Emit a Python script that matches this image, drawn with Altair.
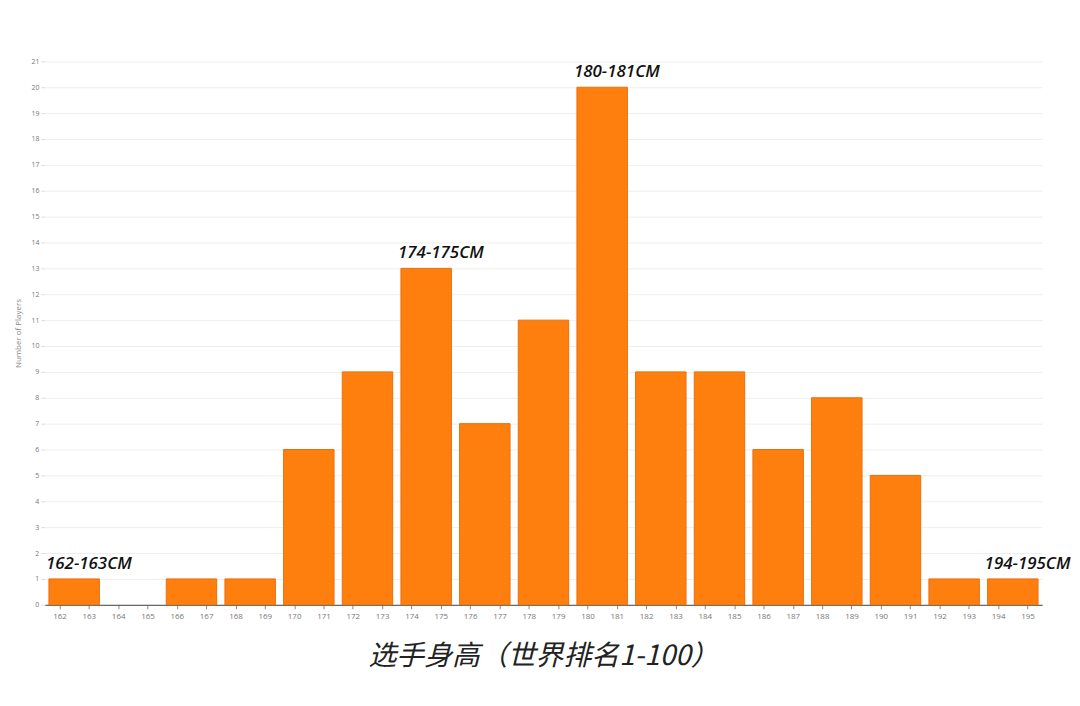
import altair as alt
import pandas as pd

starts = [162, 164, 166, 168, 170, 172, 174, 176, 178, 180, 182, 184, 186, 188, 190, 192, 194]
counts = [1, 0, 1, 1, 6, 9, 13, 7, 11, 20, 9, 9, 6, 8, 5, 1, 1]
label_starts = [162, 174, 180, 194]
tick_values = list(range(162, 196))
y_ticks = list(range(0, 22))

df = pd.DataFrame({"start": starts, "count": counts})
df["lo"] = df["start"] - 0.5 + 0.14
df["hi"] = df["start"] + 1.5 - 0.14
df["label"] = [f"{s}-{s+1}CM" if s in label_starts else "" for s in starts]

xscale = alt.Scale(domain=[161.5, 195.5], nice=False, zero=False)
yscale = alt.Scale(domain=[0, 21], nice=False)

xaxis = alt.Axis(values=tick_values, format="d", labelFontSize=8, labelColor="#777",
                 labelOverlap=False, grid=False, domainColor="#444", tickColor="#888",
                 tickSize=4, labelPadding=4, labelFont="Open Sans")
yaxis = alt.Axis(values=y_ticks, format="d", labelFontSize=7, labelColor="#777",
                 labelOverlap=False, gridColor="#eeeeee", domain=False, tickSize=4,
                 tickColor="#ddd", titleFontSize=8, titleColor="#888",
                 titleFontWeight="normal", titleFont="Open Sans",
                 labelFont="Open Sans", titlePadding=8)

base = alt.Chart(df)

bars = base.mark_bar(color="#FF7F0E", stroke="#E8700A").encode(
    x=alt.X("lo:Q", scale=xscale, title=None, axis=xaxis),
    x2="hi:Q",
    y=alt.Y("count:Q", scale=yscale, title="Number of Players", axis=yaxis),
    y2=alt.Y2(datum=0),
    strokeWidth=alt.condition("datum.count > 0", alt.value(1), alt.value(0)),
    opacity=alt.condition("datum.count > 0", alt.value(1), alt.value(0)),
)

texts = base.transform_filter("datum.label != ''").mark_text(
    align="left", baseline="bottom", dx=-3, dy=-6, fontSize=17, fontStyle="italic",
    fontWeight=600, font="Open Sans", color="#111"
).encode(
    x=alt.X("lo:Q", scale=xscale, title=None, axis=xaxis),
    y=alt.Y("count:Q", scale=yscale, title="Number of Players", axis=yaxis),
    text="label:N",
)

chart = alt.layer(bars, texts).properties(
    width=1002,
    height=546,
    background="white",
    autosize=alt.AutoSizeParams(type="none"),
    padding={"left": 37, "top": 52, "right": 30, "bottom": 80},
    title=alt.TitleParams(
        "选手身高（世界排名1-100）", orient="bottom", anchor="middle",
        fontSize=28, font="Noto Sans CJK SC", fontStyle="italic", fontWeight="normal",
        color="#222", offset=22,
    ),
).configure_view(strokeWidth=0, stroke="transparent")

chart.save("out.html", embed_options={"renderer": "svg", "actions": False})
